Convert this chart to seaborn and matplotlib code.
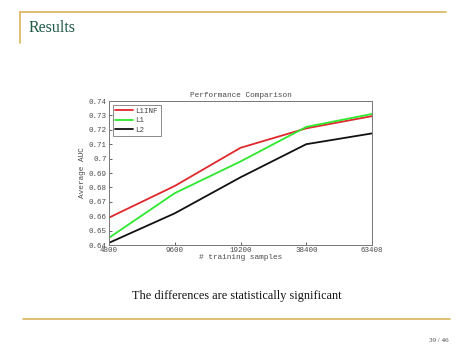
import numpy as np
import pandas as pd
import matplotlib
matplotlib.use("Agg")
import matplotlib.pyplot as plt
from matplotlib.lines import Line2D
import seaborn as sns

# data
samples = ["4800", "9600", "19200", "38400", "63408"]
auc_l1inf = [0.659, 0.681, 0.7075, 0.721, 0.7295]
auc_l1 = [0.645, 0.676, 0.698, 0.722, 0.731]
auc_l2 = [0.6415, 0.662, 0.687, 0.710, 0.7175]
methods = ["L1INF", "L1", "L2"]
yticks = [0.64, 0.65, 0.66, 0.67, 0.68, 0.69, 0.70, 0.71, 0.72, 0.73, 0.74]
ytick_labels = ["0.64", "0.65", "0.66", "0.67", "0.68", "0.69", "0.7",
                "0.71", "0.72", "0.73", "0.74"]

df = pd.DataFrame({
    "samples": samples * 3,
    "auc": auc_l1inf + auc_l1 + auc_l2,
    "method": [m for m in methods for _ in samples],
})

sns.set_style("white")
plt.rcParams["font.family"] = ["Liberation Mono", "DejaVu Sans Mono"]

fig = plt.figure(figsize=(4.74, 3.55), dpi=100)

# slide decorations
gold = "#d9b45a"
fig.add_artist(Line2D([20/474, 446/474], [1-12/355, 1-12/355], color=gold, lw=1.2))
fig.add_artist(Line2D([20/474, 20/474], [1-12/355, 1-43/355], color=gold, lw=1.2))
fig.add_artist(Line2D([23/474, 450/474], [1-319/355, 1-319/355], color=gold, lw=1.2))
fig.text(29/474, 1-28/355, "Results", family=["Liberation Serif"], fontsize=11.5,
         color="#1f5a45", va="center", ha="left")
fig.text(237/474, 1-296/355, "The differences are statistically significant",
         family=["Liberation Serif"], fontsize=8.8, color="#111111", ha="center", va="center")
fig.text(449/474, 1-340/355, "39 / 46", family=["Liberation Serif"], fontsize=5,
         color="#444444", ha="right", va="center")

ax = fig.add_axes([109/474, 1-245/355, 263/474, 144/355])
palette = {"L1INF": "#e0282c", "L1": "#2ee82e", "L2": "#111111"}
sns.lineplot(data=df, x="samples", y="auc", hue="method", palette=palette,
             linewidth=1.3, ax=ax, sort=False)

ax.set_xlim(0, len(samples) - 1)
ax.set_ylim(0.64, 0.74)
ax.set_yticks(yticks)
ax.set_yticklabels(ytick_labels)
gray = "#4a4a4a"
ax.tick_params(axis="both", direction="in", length=2.5, width=0.6, labelsize=5.4,
               colors=gray, pad=1.5, top=False, right=False)
ax.tick_params(axis="x", bottom=True)
ax.tick_params(axis="y", left=True)
for s in ax.spines.values():
    s.set_color("#777777")
    s.set_linewidth(0.7)
ax.set_xlabel("# training samples", fontsize=5.6, color=gray, labelpad=0)
ax.set_ylabel("Average AUC", fontsize=5.6, color=gray, labelpad=2)
ax.set_title("Performance Comparison", fontsize=5.6, color=gray, pad=3)

leg = ax.legend(loc="upper left", fontsize=5.4, frameon=True, fancybox=False,
                handlelength=2.4, handletextpad=0.3, borderpad=0.35,
                labelspacing=0.3, borderaxespad=0.5)
leg.get_frame().set_edgecolor("#555555")
leg.get_frame().set_linewidth(0.6)
for t in leg.get_texts():
    t.set_color("#444444")

fig.savefig("out.png", dpi=100)
